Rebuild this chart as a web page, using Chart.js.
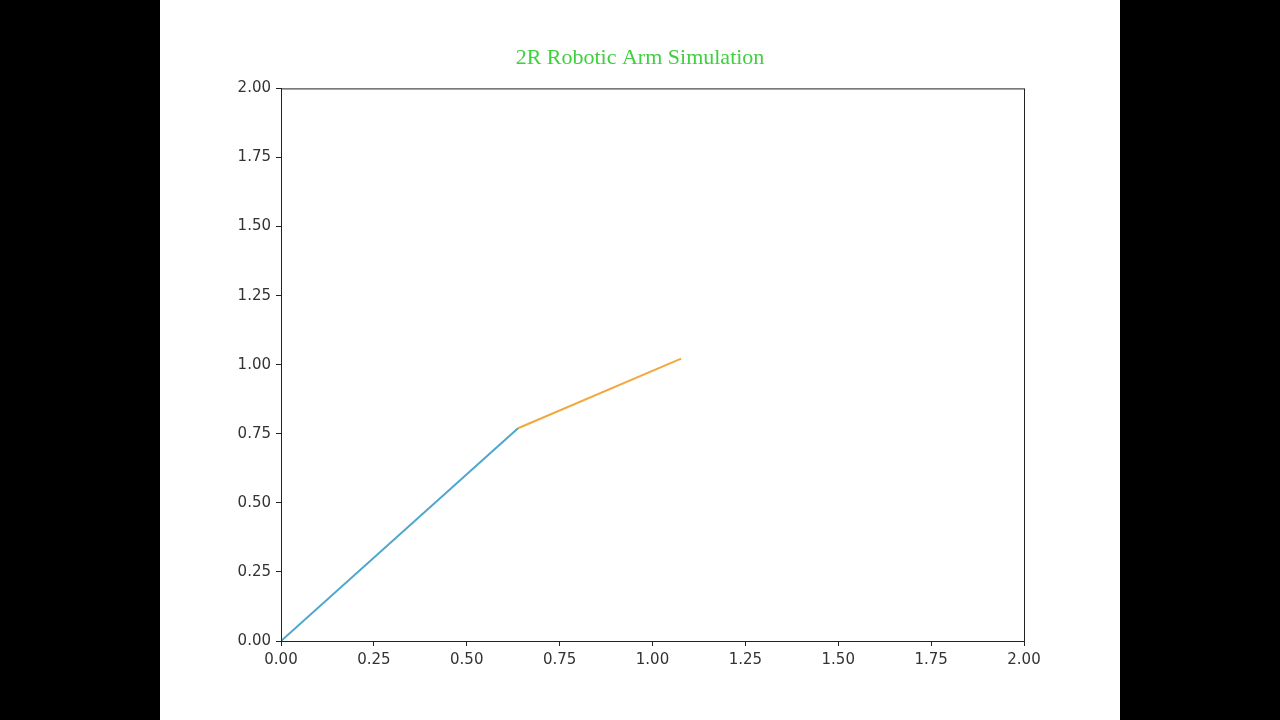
<!DOCTYPE html>
<html><head><meta charset="utf-8">
<script src="https://cdn.jsdelivr.net/npm/chart.js"></script>
<style>
html,body{margin:0;padding:0;background:#000;width:1280px;height:720px;overflow:hidden}
#wrap{position:absolute;left:160px;top:0;width:960px;height:720px;background:#fff}
</style></head><body>
<div id="wrap"><canvas id="c" width="960" height="720"></canvas></div>
<script>
const link1X = [0.0, 0.638];
const link1Y = [0.0, 0.770];
const link2X = [0.638, 1.077];
const link2Y = [0.770, 1.022];
const tickValues = [0, 0.25, 0.5, 0.75, 1.0, 1.25, 1.5, 1.75, 2.0];
const titleText = '2R Robotic Arm Simulation';

const pts = (xs, ys) => xs.map((x, i) => ({x, y: ys[i]}));
const frame = {id:'frame',
  beforeDraw(ch){ch.ctx.fontVariantCaps='small-caps';},
  afterDraw(ch){const a=ch.chartArea,c=ch.ctx;c.fontVariantCaps='normal';c.save();c.strokeStyle='#222';c.lineWidth=1;c.strokeRect(a.left+0.5,a.top+0.5,a.right-a.left,a.bottom-a.top);c.restore();}};
const tickOpts = {color:'#333', font:{family:'DejaVu Sans', size:15}, padding:5, callback:v=>Number(v).toFixed(2), autoSkip:false, maxRotation:0};
new Chart(document.getElementById('c'), {
  type:'scatter',
  data:{datasets:[
    {data:pts(link1X,link1Y), showLine:true, borderColor:'#4ea6cc', borderWidth:2, pointRadius:0},
    {data:pts(link2X,link2Y), showLine:true, borderColor:'#f2a93b', borderWidth:2, pointRadius:0}
  ]},
  options:{
    responsive:false, animation:false,
    layout:{padding:0},
    plugins:{legend:{display:false}, tooltip:{enabled:false},
      title:{display:true, text:titleText, color:'#3fcf3f', font:{family:'Liberation Serif', size:22, weight:'normal'}, padding:{top:45,bottom:17}}},
    scales:{
      x:{type:'linear', min:0, max:2, afterBuildTicks:s=>{s.ticks=tickValues.map(v=>({value:v}));},
        grid:{drawOnChartArea:false, color:'#222', tickLength:5}, border:{color:'#222'}, ticks:tickOpts,
        afterFit:s=>{s.height=79;}},
      y:{type:'linear', min:0, max:2, afterBuildTicks:s=>{s.ticks=tickValues.map(v=>({value:v}));},
        grid:{drawOnChartArea:false, color:'#222', tickLength:5}, border:{color:'#222'}, ticks:tickOpts,
        afterFit:s=>{s.width=121;}},
      yr:{type:'linear', position:'right', min:0, max:2, display:true,
        grid:{display:false}, border:{display:false}, ticks:{display:false},
        afterFit:s=>{s.width=96;}}
    }
  },
  plugins:[frame]
});
</script></body></html>
